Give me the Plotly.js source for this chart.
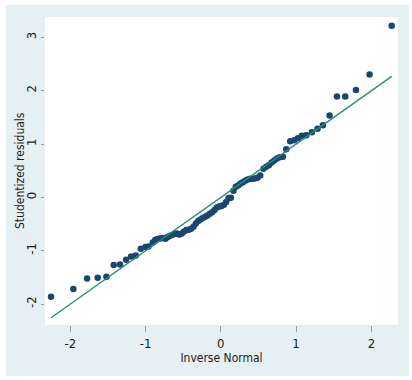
<!DOCTYPE html>
<html>
<head>
<meta charset="utf-8">
<script src="https://cdn.plot.ly/plotly-3.0.1.min.js"></script>
<style>
  html, body { margin: 0; padding: 0; background: #ffffff; }
  #plot { position: absolute; left: 6px; top: 5px; width: 403px; height: 371px; }
</style>
</head>
<body>
<div id="plot"></div>
<script>
// inverse normal quantiles (x) vs sorted studentized residuals (y)
const invNormal = [
  -2.256, -1.959, -1.777, -1.636, -1.520, -1.423, -1.339, -1.259, -1.192, -1.130,
  -1.064, -1.002, -0.962, -0.904, -0.873, -0.842, -0.807, -0.771, -0.736, -0.705,
  -0.674, -0.643, -0.612, -0.581, -0.550, -0.519, -0.488, -0.457, -0.426, -0.395,
  -0.363, -0.332, -0.301, -0.270, -0.239, -0.208, -0.177, -0.146, -0.115, -0.084,
  -0.053, -0.022, 0.009, 0.040, 0.071, 0.102, 0.133, 0.168, 0.199, 0.230,
  0.262, 0.293, 0.324, 0.355, 0.390, 0.421, 0.452, 0.488, 0.523, 0.567,
  0.603, 0.638, 0.674, 0.709, 0.745, 0.780, 0.824, 0.869, 0.922, 0.975,
  1.024, 1.077, 1.135, 1.210, 1.285, 1.356, 1.445, 1.543, 1.653, 1.795,
  1.977, 2.270
];
const studResid = [
  -1.860, -1.717, -1.517, -1.504, -1.486, -1.267, -1.255, -1.167, -1.105, -1.086,
  -0.961, -0.930, -0.918, -0.843, -0.799, -0.780, -0.768, -0.762, -0.774, -0.743,
  -0.718, -0.699, -0.680, -0.674, -0.693, -0.674, -0.637, -0.612, -0.605, -0.587,
  -0.549, -0.487, -0.443, -0.412, -0.387, -0.362, -0.337, -0.306, -0.275, -0.237,
  -0.187, -0.169, -0.162, -0.137, -0.087, -0.012, -0.006, 0.125, 0.200, 0.225,
  0.262, 0.287, 0.312, 0.337, 0.350, 0.350, 0.356, 0.368, 0.412, 0.537,
  0.574, 0.605, 0.655, 0.693, 0.730, 0.755, 0.762, 0.905, 1.055, 1.074,
  1.111, 1.155, 1.167, 1.223, 1.286, 1.355, 1.536, 1.891, 1.891, 2.016,
  2.303, 3.221
];
// reference line y = x over the range of the quantiles
const refX = [-2.256, 2.270];
const refY = [-2.256, 2.270];

const xTicks = [-2, -1, 0, 1, 2];
const xTickText = ['-2', '-1', '0', '1', '2'];
const yTicks = [-2, -1, 0, 1, 2, 3];
const yTickText = ['-2', '-1', '0', '1', '2', '3'];

const tickFont = {family: 'DejaVu Sans Condensed, Liberation Sans Narrow, Arial', size: 13, color: '#1a1a1a'};
const titleFont = {family: 'DejaVu Sans Condensed, Liberation Sans Narrow, Arial', size: 12, color: '#1a1a1a'};

const data = [
  {
    x: invNormal, y: studResid,
    type: 'scatter', mode: 'markers',
    marker: {color: '#1a476f', size: 6.5, line: {width: 0}},
    hoverinfo: 'x+y'
  },
  {
    x: refX, y: refY,
    type: 'scatter', mode: 'lines',
    line: {color: '#2a8c77', width: 1.4},
    hoverinfo: 'skip'
  }
];

const layout = {
  width: 403, height: 371,
  margin: {l: 39, r: 11, t: 12, b: 51},
  paper_bgcolor: '#e6f0f2',
  plot_bgcolor: '#ffffff',
  showlegend: false,
  font: tickFont,
  xaxis: {
    range: [-2.336, 2.354],
    tickvals: xTicks, ticktext: xTickText,
    ticks: 'outside', ticklen: 6, tickwidth: 1, tickcolor: '#9a9a9a',
    showgrid: false, zeroline: false, showline: false,
    tickfont: tickFont,
    title: {text: 'Inverse Normal', font: titleFont, standoff: 2}
  },
  yaxis: {
    range: [-2.391, 3.383],
    tickvals: yTicks, ticktext: yTickText,
    tickangle: -90,
    ticks: 'outside', ticklen: 3, tickwidth: 1, tickcolor: '#9a9a9a',
    ticklabelstandoff: 0,
    showgrid: false, zeroline: false, showline: false,
    tickfont: tickFont
  },
  annotations: [{
    text: 'Studentized residuals',
    xref: 'paper', yref: 'paper', x: 0, y: 0.5,
    xanchor: 'center', yanchor: 'middle', xshift: -25,
    textangle: -90, showarrow: false, font: titleFont
  }]
};

Plotly.newPlot('plot', data, layout, {displayModeBar: false, staticPlot: true});
</script>
</body>
</html>
